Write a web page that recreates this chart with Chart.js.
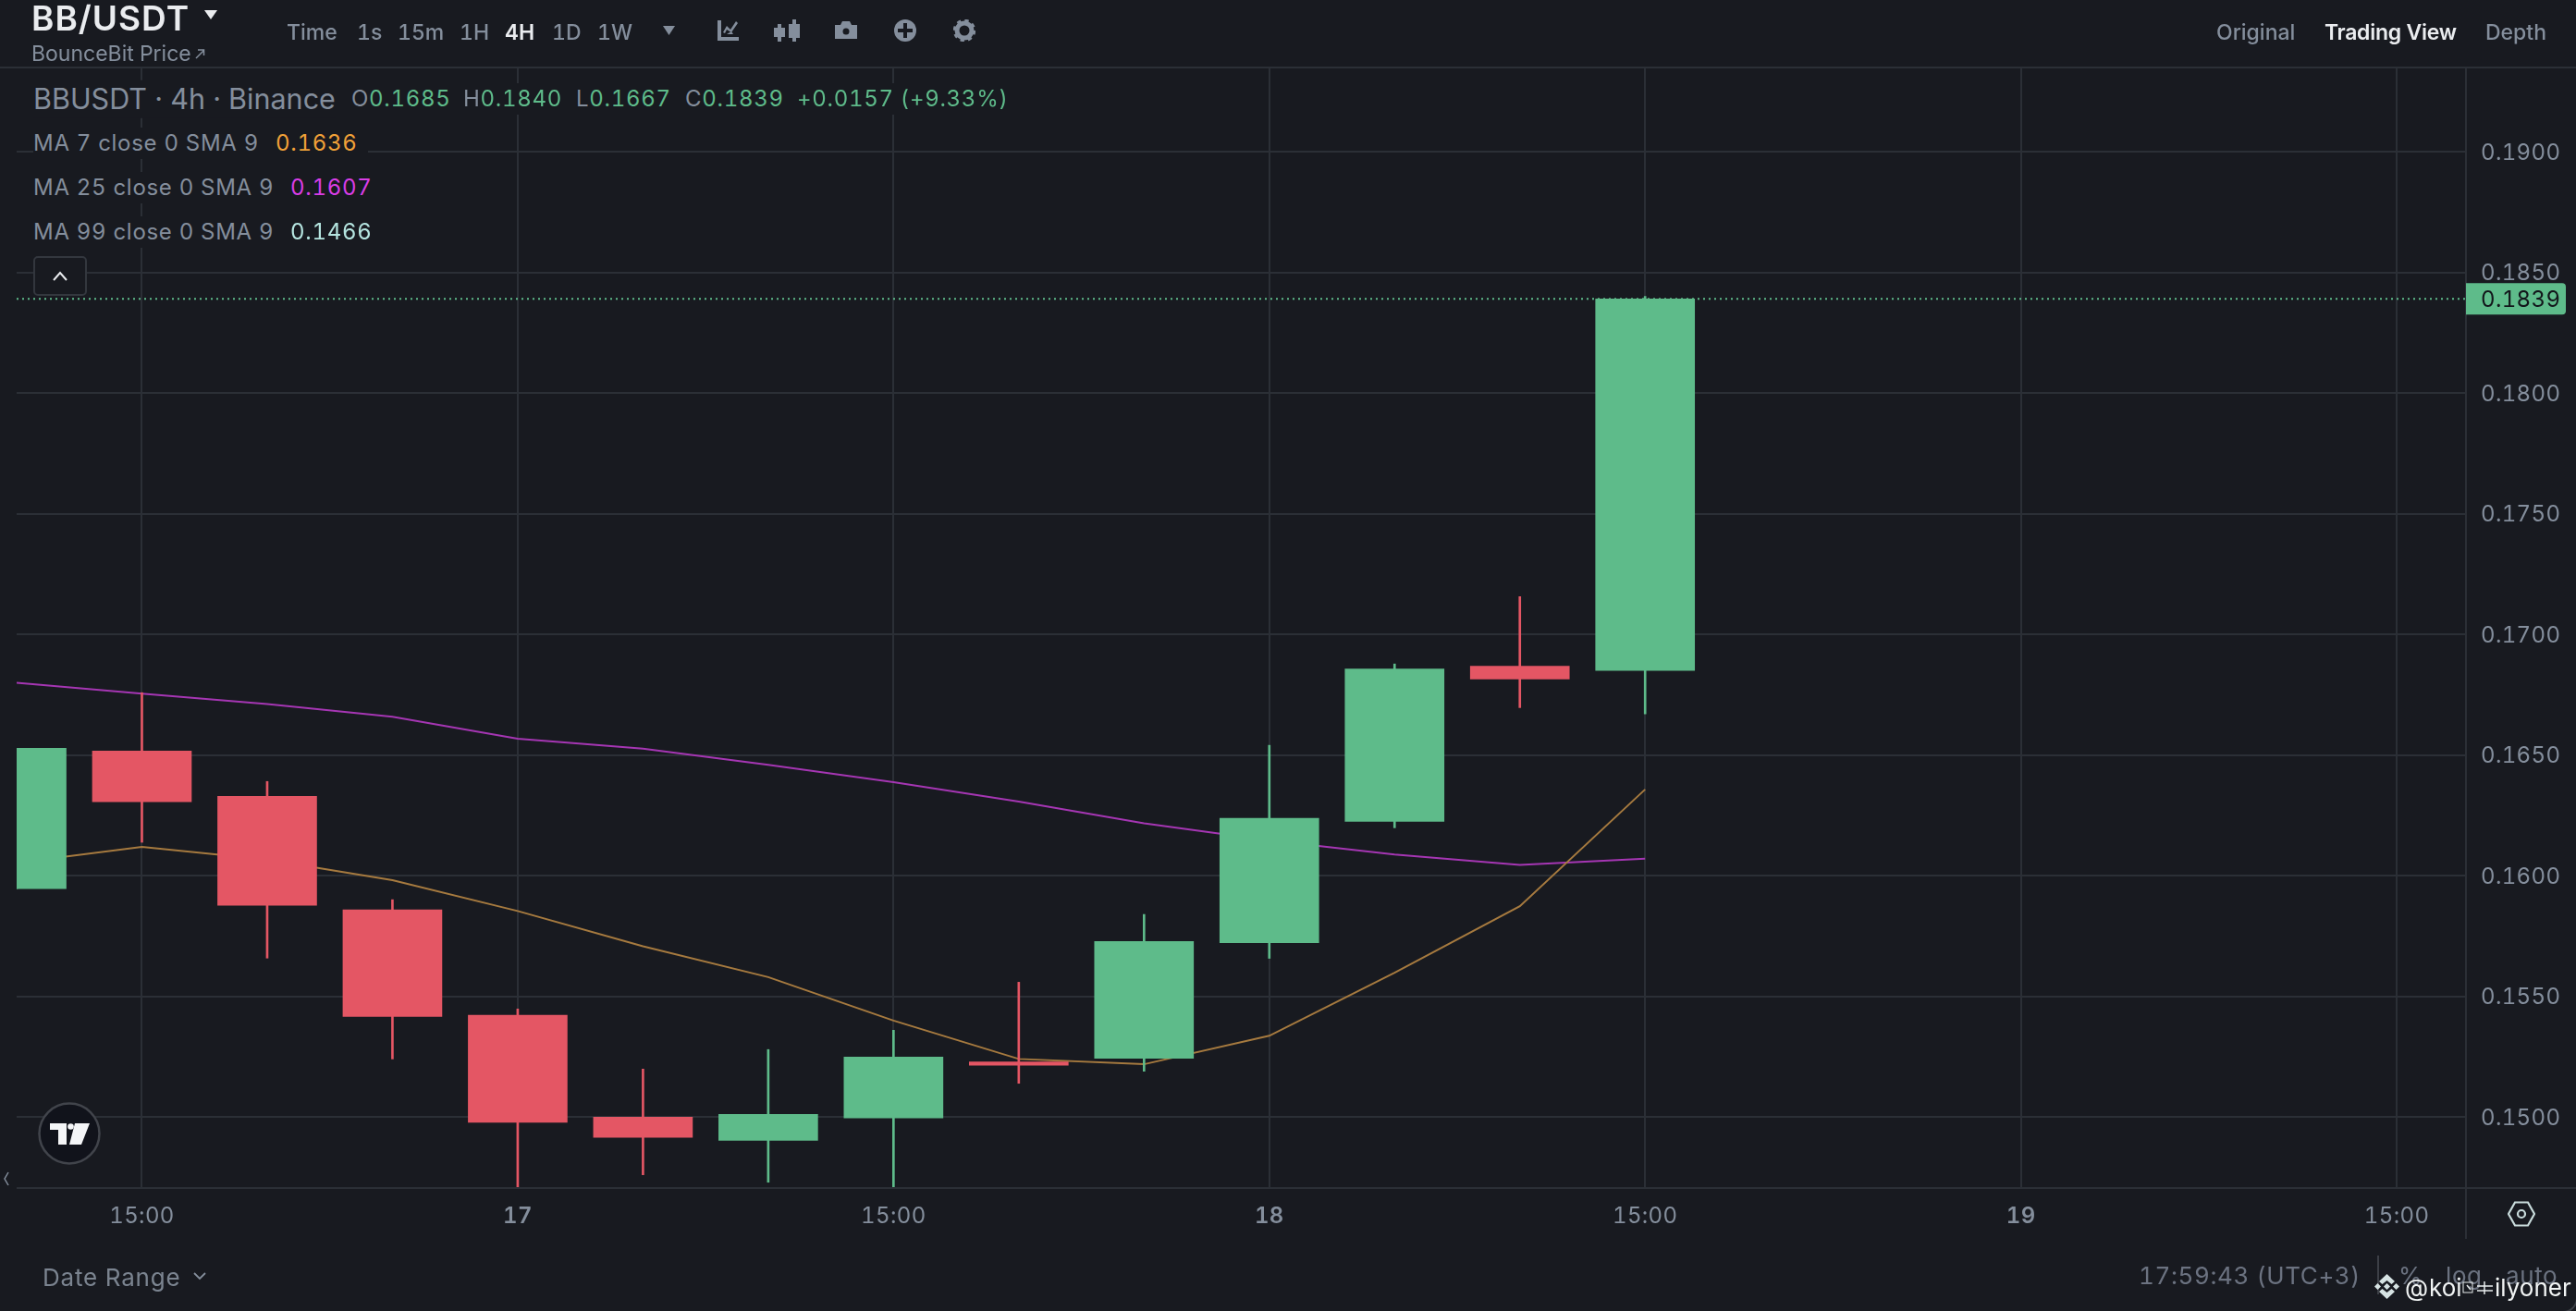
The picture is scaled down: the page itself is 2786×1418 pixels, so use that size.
<!DOCTYPE html>
<html>
<head>
<meta charset="utf-8">
<title>BB/USDT</title>
<script src="https://cdn.jsdelivr.net/npm/chart.js@4/dist/chart.umd.min.js"></script>
<style>
  html, body { margin: 0; padding: 0; background: #181a20; }
  #page { position: relative; width: 2786px; height: 1418px; overflow: hidden; background: #181a20; font-family: Inter, "Noto Sans", sans-serif; color: #848e9c; font-variant-numeric: tabular-nums; }
  #grafico { position: absolute; left: 0; top: 0; }
  .t { position: absolute; white-space: nowrap; line-height: 1; transform: translateY(-50%); }
  .m { font-size: 23px; font-weight: 500; top: 35px; }
  .r { font-size: 24px; letter-spacing: 0.7px; background: #181a20; padding: 5px 0; }
  .p { font-size: 26px; letter-spacing: 0.6px; color: #6b7280; top: 1380px; }
  .w { font-size: 26px; color: #f1f4f4; top: 1393px; }
  .linea { position: absolute; background: #2b2f36; }
  svg { position: absolute; }
</style>
</head>
<body>
<div id="page">
  <div class="linea" style="left:0;top:72px;width:2786px;height:2px"></div>
  <div class="linea" style="left:18px;top:1284px;width:2768px;height:2px"></div>
  <div class="linea" style="left:2666px;top:73px;width:2px;height:1267px"></div>
  <div style="position:absolute;left:-6px;top:-6px;width:2790px;height:1422px;border:2px solid #3c3f46;border-radius:0 0 16px 0"></div>
  <canvas id="grafico" width="2786" height="1418"></canvas>

  <div class="t" style="left:34px;top:19px;font-size:37px;font-weight:600;color:#eaecef;letter-spacing:1px">BB/USDT</div>
  <svg style="left:221px;top:11px" width="14" height="10"><path d="M0 0H14L7 10Z" fill="#eaecef"/></svg>
  <div class="t" style="left:34px;top:58px;font-size:23px">BounceBit Price</div>
  <svg style="left:211px;top:52px" width="11" height="12" fill="none" stroke="#848e9c" stroke-width="1.5"><path d="M1 11L9 3M3 2H9.500V8"/></svg>

  <div class="t m" style="left:310px">Time</div>
  <div class="t m" style="left:386px">1s</div>
  <div class="t m" style="left:430px">15m</div>
  <div class="t m" style="left:497px">1H</div>
  <div class="t m" style="left:546px;font-weight:600;color:#eaecef">4H</div>
  <div class="t m" style="left:597px">1D</div>
  <div class="t m" style="left:646px">1W</div>
  <svg style="left:717px;top:28px" width="13" height="10"><path d="M0 0H13L6.500 10Z" fill="#848e9c"/></svg>

  <svg style="left:776px;top:22px" width="23" height="23" fill="#848e9c"><path d="M0 0H4V18H23V22H0Z"/><path d="M6 13L10 6L14 10L20 1L22 3L15 13L10 10L8 14Z"/><path d="M10 15L15 12L17 15Z"/></svg>
  <svg style="left:837px;top:21px" width="28" height="24" fill="#848e9c"><rect x="0" y="9" width="12" height="10"/><rect x="4" y="5" width="4" height="19"/><rect x="16" y="5" width="12" height="15"/><rect x="20" y="0" width="4" height="24"/></svg>
  <svg style="left:903px;top:23px" width="24" height="19" fill="#848e9c"><path d="M0 4H6L8 0H16L18 4H24V19H0Z"/><circle cx="12" cy="11" r="3.500" fill="#181a20"/></svg>
  <svg style="left:967px;top:21px" width="24" height="24"><circle cx="12" cy="12" r="12" fill="#848e9c"/><path d="M10 4H14V10H20V14H14V20H10V14H4V10H10Z" fill="#181a20"/></svg>
  <svg style="left:1031px;top:21px" width="24" height="24"><circle cx="12" cy="12" r="8" fill="none" stroke="#848e9c" stroke-width="5"/><circle cx="12" cy="12" r="10.500" fill="none" stroke="#848e9c" stroke-width="3.500" stroke-dasharray="4.200 4.046"/></svg>

  <div class="t m" style="left:2397px">Original</div>
  <div class="t m" style="left:2514px;font-weight:600;color:#eaecef;letter-spacing:-0.3px">Trading View</div>
  <div class="t m" style="left:2688px">Depth</div>

  <div class="t r" style="left:36px;top:107px;font-size:30.5px;letter-spacing:0">BBUSDT · 4h · Binance</div>
  <div class="t r" style="left:380px;top:107px">O<span style="color:#5ebb8a">0.1685</span></div>
  <div class="t r" style="left:501px;top:107px">H<span style="color:#5ebb8a">0.1840</span></div>
  <div class="t r" style="left:623px;top:107px">L<span style="color:#5ebb8a">0.1667</span></div>
  <div class="t r" style="left:741px;top:107px">C<span style="color:#5ebb8a">0.1839</span></div>
  <div class="t r" style="left:862px;top:107px;color:#5ebb8a">+0.0157 (+9.33%)</div>

  <div class="t r" style="left:36px;top:155px;width:362px">MA 7 close 0 SMA 9</div>
  <div class="t r" style="left:298px;top:155px;color:#f0a138">0.1636</div>
  <div class="t r" style="left:36px;top:203px;width:378px">MA 25 close 0 SMA 9</div>
  <div class="t r" style="left:314px;top:203px;color:#d93de6">0.1607</div>
  <div class="t r" style="left:36px;top:251px;width:378px">MA 99 close 0 SMA 9</div>
  <div class="t r" style="left:314px;top:251px;color:#b5e5e0">0.1466</div>

  <svg style="left:36px;top:277px" width="58" height="43"><rect x="1" y="1" width="56" height="41" rx="4" fill="#181a20" stroke="#33373e" stroke-width="2"/><path d="M22 26L29 18L36 26" fill="none" stroke="#eaecef" stroke-width="2"/></svg>

  <svg style="left:41px;top:1192px" width="68" height="68"><circle cx="34" cy="34" r="32.500" fill="#11131b" stroke="#41444b" stroke-width="2.500"/>
    <path d="M13 23H31V46H22V30H13Z M40 23H56L47 46H34Z" fill="#f4f5f7"/><circle cx="35.500" cy="26.500" r="3.300" fill="#f4f5f7"/></svg>
  <svg style="left:3px;top:1267px" width="8" height="16" fill="none" stroke="#848e9c" stroke-width="1.500"><path d="M6 1L2 8L6 15"/></svg>

  <svg style="left:2712px;top:1299px" width="30" height="28" fill="none" stroke="#c9dcdc" stroke-width="2.200"><path d="M8 1.500H22L29 14L22 26.500H8L1 14Z"/><circle cx="15" cy="14" r="4"/></svg>

  <div class="t" style="left:46px;top:1382px;font-size:26px;letter-spacing:0.8px;color:#7b8490">Date Range</div>
  <svg style="left:209px;top:1376px" width="14" height="9" fill="none" stroke="#848e9c" stroke-width="1.800"><path d="M1 1L7 7L13 1"/></svg>
  <div class="t p" style="left:2313px">17:59:43 (UTC+3)</div>
  <div class="linea" style="left:2571px;top:1358px;width:2px;height:42px;background:#3c3f46"></div>
  <div class="t p" style="left:2594px">%</div>
  <div class="t p" style="left:2645px">log</div>
  <div class="t p" style="left:2710px">auto</div>

  <svg style="left:2568px;top:1378px" width="27" height="27" fill="#d6e3e3"><path d="M13.500 0L22 8L18.500 11L13.500 7L8.500 11L5 8Z M13.500 27L22 19L18.500 16L13.500 20L8.500 16L5 19Z M3.500 10L7 13.500L3.500 17L0 13.500Z M23.500 10L27 13.500L23.500 17L20 13.500Z M13.500 10L17 13.500L13.500 17L10 13.500Z"/></svg>
  <div class="t w" style="left:2601px">@</div>
  <div class="t w" style="left:2627px">koi</div>
  <svg style="left:2663px;top:1385px" width="34" height="16" fill="none" stroke="#e8eded" stroke-width="1.500"><rect x="1" y="2" width="10" height="11" stroke-width="1"/><path d="M5 5L9 10M16 6H33M16 11H33M24 1V15"/></svg>
  <div class="t w" style="left:2698px">ilyoner</div>
</div>

<script>
const opens  = [0.15946, 0.16516, 0.16328, 0.15858, 0.15421, 0.14999, 0.14903, 0.14996, 0.15228, 0.15243, 0.15722, 0.16225, 0.16868, 0.1685];
const closes = [0.16528, 0.16306, 0.15877, 0.15416, 0.14977, 0.14915, 0.1501,  0.15248, 0.15214, 0.15727, 0.16237, 0.16856, 0.16815, 0.1839];
const highs  = [0.16528, 0.16758, 0.1639,  0.159,   0.15447, 0.15198, 0.15279, 0.15359, 0.15558, 0.15839, 0.1654,  0.16877, 0.17156, 0.184];
const lows   = [0.15946, 0.16138, 0.15658, 0.1524,  0.1471,  0.1476,  0.14729, 0.1471,  0.15139, 0.15189, 0.15657, 0.16198, 0.16696, 0.1667];
const ma7    = [0.16053, 0.16119, 0.16066, 0.15981, 0.15853, 0.15707, 0.15579, 0.15399, 0.1524,  0.15218, 0.15336, 0.15597, 0.15873, 0.16357];
const ma25   = [0.16799, 0.16754, 0.16711, 0.16658, 0.16567, 0.16526, 0.16459, 0.16387, 0.16307, 0.16217, 0.16146, 0.16087, 0.16044, 0.1607];
const ultimoPrecio = 0.1839;

const yTicks = [0.19, 0.185, 0.18, 0.175, 0.17, 0.165, 0.16, 0.155, 0.15];
const xTicks = [1, 4, 7, 10, 13, 16, 19];
const xLabels = ['15:00', '17', '15:00', '18', '15:00', '19', '15:00'];

const VERDE = '#5ebb8a';
const ROJO = '#e45664';
const FUENTE = 'Inter, "Noto Sans", sans-serif';

// velas: mecha y cuerpo son barras flotantes superpuestas
const colores = opens.map((o, i) => closes[i] >= o ? VERDE : ROJO);
const puntos = (serie) => serie.map((v, i) => ({ x: i, y: v }));

// los numeros del original van mas separados que los de Inter
const espaciado = {
  id: 'espaciado',
  beforeDraw: (chart) => { chart.ctx.letterSpacing = '0.35px'; }
};

// etiqueta del ultimo precio sobre el eje
const etiquetaPrecio = {
  id: 'etiquetaPrecio',
  afterDraw: (chart) => {
    const ctx = chart.ctx;
    const y = chart.scales.y.getPixelForValue(ultimoPrecio);
    ctx.save();
    ctx.fillStyle = VERDE;
    ctx.beginPath();
    ctx.roundRect(chart.chartArea.right, y - 17, 108, 34, [0, 4, 4, 0]);
    ctx.fill();
    ctx.fillStyle = '#12151a';
    ctx.font = '24px ' + FUENTE;
    ctx.textBaseline = 'middle';
    ctx.fillText(ultimoPrecio.toFixed(4), 2683, y + 1.5);
    ctx.restore();
  }
};

new Chart(document.getElementById('grafico'), {
  type: 'bar',
  data: {
    datasets: [
      { type: 'bar', data: opens.map((o, i) => ({ x: i, y: [o, closes[i]] })), backgroundColor: colores, barThickness: 107, grouped: false, order: 1 },
      { type: 'bar', data: lows.map((l, i) => ({ x: i, y: [l, highs[i]] })), backgroundColor: colores, barThickness: 2, grouped: false, order: 2 },
      { type: 'line', data: puntos(ma7), borderColor: '#a67a3f', borderWidth: 2, pointRadius: 0, tension: 0, order: 3 },
      { type: 'line', data: puntos(ma25), borderColor: '#a536b3', borderWidth: 2, pointRadius: 0, tension: 0, order: 3 },
      { type: 'line', data: [{ x: 0, y: ultimoPrecio }, { x: 19.553, y: ultimoPrecio }], borderColor: VERDE, borderWidth: 2, borderDash: [2, 4], pointRadius: 0, order: 4 }
    ]
  },
  options: {
    responsive: false,
    animation: false,
    layout: { padding: { left: 18, top: 73, right: 0, bottom: 0 } },
    plugins: { legend: { display: false }, tooltip: { enabled: false } },
    scales: {
      x: {
        type: 'linear',
        min: 0,
        max: 19.553,
        offset: false,
        border: { display: false },
        grid: { offset: false, color: '#2b2f36', lineWidth: 2, drawTicks: false },
        afterBuildTicks: (axis) => { axis.ticks = xTicks.map((v) => ({ value: v })); },
        afterFit: (axis) => { axis.height = 133; },
        ticks: {
          autoSkip: false,
          maxRotation: 0,
          padding: 16,
          color: '#848e9c',
          font: (c) => ({ family: FUENTE, size: 24, weight: xLabels[c.index] === '15:00' ? 400 : 600 }),
          callback: (v, i) => xLabels[i]
        }
      },
      y: {
        position: 'right',
        min: 0.14705,
        max: 0.19349,
        border: { display: false },
        grid: { color: '#2b2f36', lineWidth: 2, drawTicks: false },
        afterBuildTicks: (axis) => { axis.ticks = yTicks.map((v) => ({ value: v })); },
        afterFit: (axis) => { axis.width = 119; },
        ticks: {
          padding: 16,
          labelOffset: 1.5,
          color: '#848e9c',
          font: { family: FUENTE, size: 24 },
          callback: (v) => v.toFixed(4)
        }
      }
    }
  },
  plugins: [espaciado, etiquetaPrecio]
});
</script>
</body>
</html>
